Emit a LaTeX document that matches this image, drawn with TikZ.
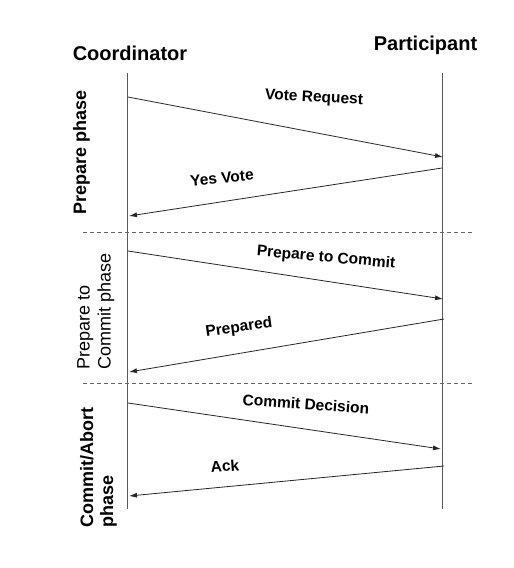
\documentclass[tikz,border=0pt]{standalone}
\usepackage{fontspec}
\setmainfont{Liberation Sans}
\usetikzlibrary{arrows.meta}
\begin{document}
\begin{tikzpicture}[x=1pt,y=-1pt,
  lifeline/.style={draw=black!65,line width=0.9pt},
  msg/.style={draw=black!85,line width=0.8pt,-{Latex[length=8pt,width=5pt]}},
  sep/.style={draw=black!60,line width=0.8pt,dash pattern=on 4pt off 3pt},
  actor/.style={font=\fontsize{20}{24}\selectfont\bfseries,inner sep=0pt,anchor=base},
  lbl/.style={font=\fontsize{15.5}{18}\selectfont\bfseries,inner sep=0pt},
  phase/.style={font=\fontsize{18}{21}\selectfont,inner sep=0pt,align=left,rotate=90,anchor=north west},
  bphase/.style={phase,font=\fontsize{18}{20}\selectfont\bfseries}]
\useasboundingbox (0,0) rectangle (514,568);
% actors
\node[actor] (coord) at (130,60) {Coordinator};
\node[actor] (part) at (425.5,50) {Participant};
% lifelines
\coordinate (ctop) at (127,73);
\coordinate (cbot) at (127,509);
\coordinate (ptop) at (442,73);
\coordinate (pbot) at (442,509);
\draw[lifeline] (ctop) -- (cbot);
\draw[lifeline] (ptop) -- (pbot);
% separators
\coordinate (s1a) at (83,232); \coordinate (s1b) at (472,232);
\coordinate (s2a) at (83,383); \coordinate (s2b) at (472,383);
\draw[sep] (s1a) -- (s1b);
\draw[sep] (s2a) -- (s2b);
% message endpoints
\coordinate (m1a) at (128,97);  \coordinate (m1b) at (443,157);
\coordinate (m2a) at (442,168); \coordinate (m2b) at (129,216);
\coordinate (m3a) at (128,251); \coordinate (m3b) at (443,299);
\coordinate (m4a) at (444,319); \coordinate (m4b) at (129,372);
\coordinate (m5a) at (128,403); \coordinate (m5b) at (441,449);
\coordinate (m6a) at (444,466); \coordinate (m6b) at (129,496);
\draw[msg] (m1a) -- (m1b);
\draw[msg] (m2a) -- (m2b);
\draw[msg] (m3a) -- (m3b);
\draw[msg] (m4a) -- (m4b);
\draw[msg] (m5a) -- (m5b);
\draw[msg] (m6a) -- (m6b);
% message labels
\node[lbl,rotate=-3] (l1) at (314,98) {Vote Request};
\node[lbl,rotate=6] (l2) at (222,178) {Yes Vote};
\node[lbl,rotate=-5] (l3) at (326,258) {Prepare to Commit};
\node[lbl,rotate=8] (l4) at (239,328) {Prepared};
\node[lbl,rotate=-4] (l5) at (306,404) {Commit Decision};
\node[lbl,rotate=4] (l6) at (225,466) {Ack};
% phase labels
\node[bphase] (p1) at (73,215) {Prepare phase};
\node[phase] (p2) at (77,370) {Prepare to\\Commit phase};
\node[bphase] (p3) at (80,528) {Commit/Abort\\phase};
\end{tikzpicture}
\end{document}
